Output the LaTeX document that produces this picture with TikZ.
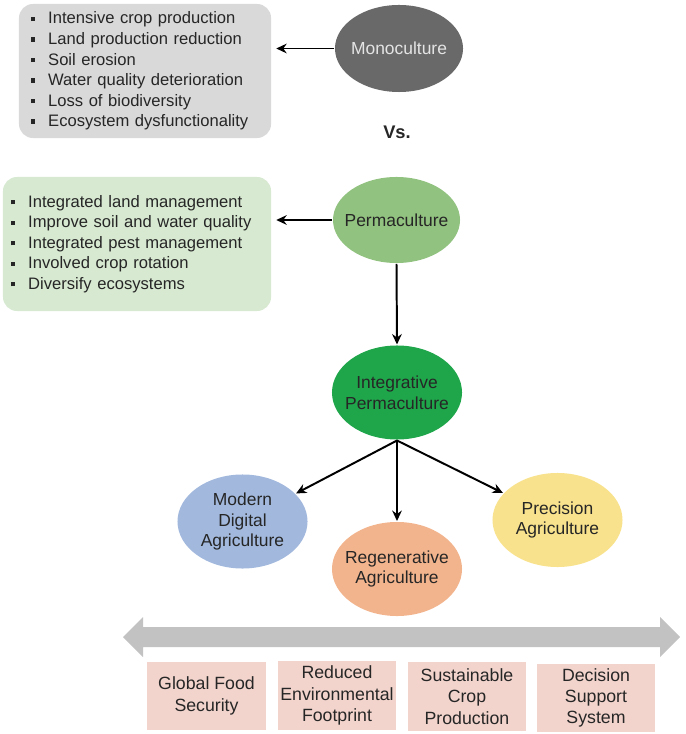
\documentclass[tikz,border=0pt]{standalone}
\usepackage{fontspec}
\setmainfont{Liberation Sans}
\usetikzlibrary{arrows.meta, shapes.geometric, calc}
\definecolor{ctext}{HTML}{262626}
\definecolor{cgreybox}{HTML}{D9D9D9}
\definecolor{cmono}{HTML}{696969}
\definecolor{cmonotext}{HTML}{E4E4E4}
\definecolor{cgreenbox}{HTML}{D7E9D1}
\definecolor{cperm}{HTML}{92C27F}
\definecolor{cinteg}{HTML}{1FA64B}
\definecolor{cmodern}{HTML}{A2B9DD}
\definecolor{cregen}{HTML}{F2B48D}
\definecolor{cprec}{HTML}{F8E28D}
\definecolor{cgoal}{HTML}{F2D4CC}
\definecolor{cband}{HTML}{C2C2C2}
\newcommand{\sqb}{\makebox[0.43cm][l]{\raisebox{2.1pt}{\rule{3pt}{3pt}}}}
\tikzset{
  every picture/.style={font=\fontsize{11.8}{14.6}\selectfont, text=ctext, line width=1.4pt},
  oval/.style={ellipse, fill=#1, inner xsep=-1cm, inner ysep=-0.6cm, minimum width=3.25cm, minimum height=2.35cm, align=center, font=\fontsize{12.4}{14.8}\selectfont},
  listbox/.style={fill=#1, rounded corners=0.35cm, align=left, anchor=north west, inner ysep=0pt},
  arrow/.style={-{Stealth[length=2.6mm, width=2.4mm]}, draw=black},
  goal/.style={fill=cgoal, minimum width=2.95cm, minimum height=1.7cm, inner sep=0pt, align=center, font=\fontsize{12.6}{15.2}\selectfont},
  vs/.style={font=\fontsize{13}{15}\selectfont\bfseries},
}

\begin{document}
\begin{tikzpicture}[x=0.025cm, y=-0.025cm]
  \useasboundingbox (0,0) rectangle (685,734);
  \node[listbox=cgreybox, minimum width=6.3cm, minimum height=3.35cm, inner xsep=0.3cm, text width=5.7cm] (monolist) at (18,3)
    {\sqb Intensive crop production\\ \sqb Land production reduction\\ \sqb Soil erosion\\ \sqb Water quality deterioration\\ \sqb Loss of biodiversity\\ \sqb Ecosystem dysfunctionality};
  \node[listbox=cgreenbox, minimum width=6.7cm, minimum height=3.35cm, inner xsep=0.2cm, text width=6.3cm] (permlist) at (2,176)
    {\sqb Integrated land management\\ \sqb Improve soil and water quality\\ \sqb Integrated pest management\\ \sqb Involved crop rotation\\ \sqb Diversify ecosystems};
  \node[oval=cmono, minimum width=3.2cm, minimum height=2.175cm, text=cmonotext] (mono) at (399,48.5) {Monoculture};
  \node[vs] (vs) at (397,132) {Vs.};
  \node[oval=cperm, minimum width=3.175cm, minimum height=2.15cm] (perm) at (396.5,220) {Permaculture};
  \foreach \n/\c/\x/\y/\txt in {
    integ/cinteg/397/392.5/{Integrative\\Permaculture},
    modern/cmodern/242.5/521.5/{Modern\\Digital\\Agriculture},
    regen/cregen/397/569/{Regenerative\\Agriculture},
    prec/cprec/557.5/520/{Precision\\Agriculture}} {
    \node[oval=\c] (\n) at (\x,\y) {\txt};
  }
  \draw[arrow, shorten >=3pt] (mono.west) -- (mono.west -| monolist.east);
  \draw[arrow, shorten >=3pt] (perm.west) -- (perm.west -| permlist.east);
  \draw[arrow] (perm.south) -- (integ.north);
  \draw[arrow] (integ.south) -- (modern);
  \draw[arrow] (integ.south) -- (regen.north);
  \draw[arrow] (integ.south) -- (prec);
  \fill[cband] (123,637) -- (143,617) -- (143,627) -- (660,627) -- (660,617) -- (680,637) -- (660,657) -- (660,647) -- (143,647) -- (143,657) -- cycle;
  \foreach \i/\x/\y/\txt in {
    1/206.5/696/{Global Food\\Security},
    2/337/695.5/{Reduced\\Environmental\\Footprint},
    3/467/696.5/{Sustainable\\Crop\\Production},
    4/596/698/{Decision\\Support\\System}} {
    \node[goal] (g\i) at (\x,\y) {\txt};
  }
\end{tikzpicture}
\end{document}
